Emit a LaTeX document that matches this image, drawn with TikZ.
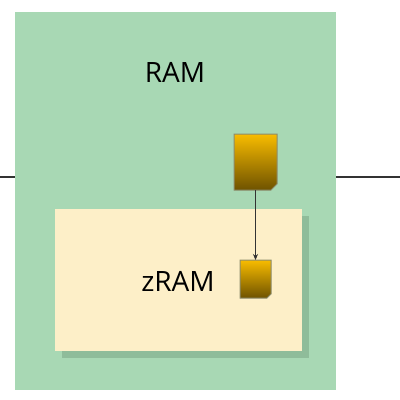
\documentclass[tikz,border=0pt]{standalone}
\usepackage{fontspec}
\setmainfont{Open Sans}
\usetikzlibrary{arrows.meta,calc}
\definecolor{ramgreen}{HTML}{A8D8B4}
\definecolor{zcream}{HTML}{FDEFC8}
\definecolor{zshadow}{HTML}{8FBC9A}
\definecolor{goldtop}{HTML}{F8BC00}
\definecolor{goldbot}{HTML}{6E5200}
\definecolor{docedge}{HTML}{8C8C6C}
\definecolor{wire}{HTML}{333333}
\tikzset{
  px/.style={x=1pt,y=-1pt},
  zone/.style={anchor=north west,inner sep=0pt,outer sep=0pt},
  wirepath/.style={draw=wire,line width=1.3pt},
  docanchor/.style={anchor=north west,inner sep=0pt,outer sep=0pt},
  docfill/.style={top color=goldtop,bottom color=goldbot,draw=docedge,line width=1pt},
  label/.style={font=\fontsize{28}{32}\selectfont,text=black,inner sep=0pt}
}
\begin{document}
\begin{tikzpicture}[px]
\useasboundingbox (0,0) rectangle (400,400);
\node[zone,fill=ramgreen,minimum width=321pt,minimum height=378pt] (ram) at (15,12) {};
\node[zone,fill=zshadow,minimum width=247pt,minimum height=142pt] (zshade) at (62,216) {};
\node[zone,fill=zcream,minimum width=247pt,minimum height=142pt] (zram) at (55,209) {};
\node[docanchor,minimum width=43pt,minimum height=56pt] (doca) at (234,134) {};
\node[docanchor,minimum width=31pt,minimum height=38pt] (docb) at (240,260) {};
\path[docfill] (doca.north west) -- (doca.north east) -- ($(doca.south east)+(0,-6)$) -- ($(doca.south east)+(-6,0)$) -- (doca.south west) -- cycle;
\path[docfill] (docb.north west) -- (docb.north east) -- ($(docb.south east)+(0,-4)$) -- ($(docb.south east)+(-4,0)$) -- (docb.south west) -- cycle;
\coordinate (lefte) at (0,177);
\coordinate (righte) at (400,177);
\draw[wirepath] (lefte) -- (ram.west |- lefte);
\draw[wirepath] (ram.east |- righte) -- (righte);
\draw[draw=wire,line width=0.7pt,-{Stealth[length=6pt,width=5pt]}] (doca.south) -- (docb.north);
\node[label] (ramlabel) at (175,72) {RAM};
\node[label] (zramlabel) at (178,281) {zRAM};
\end{tikzpicture}
\end{document}
